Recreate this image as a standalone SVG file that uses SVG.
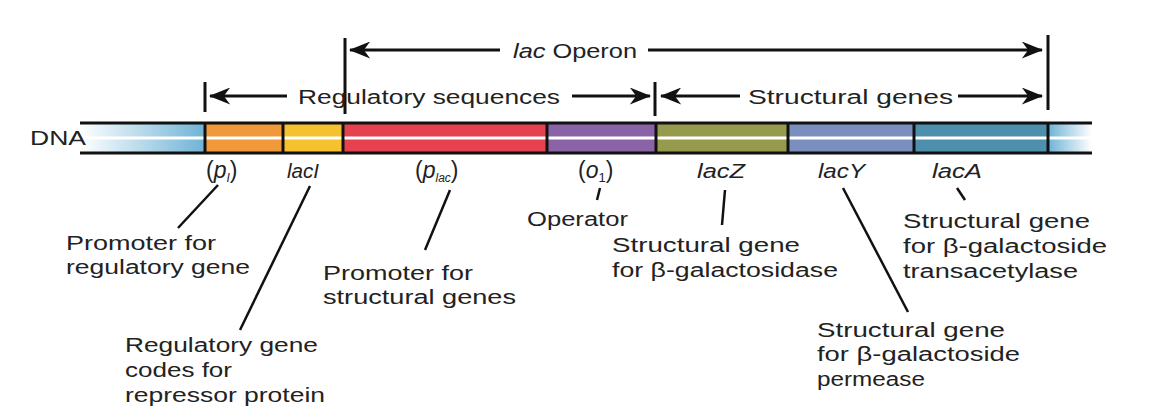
<svg xmlns="http://www.w3.org/2000/svg" width="1174" height="416" viewBox="0 0 1174 416">
<style>
text{font-family:"Liberation Sans",Arial,sans-serif;font-size:20px;fill:#222}
.i{font-style:italic}
.l{stroke:#111;stroke-width:3;fill:none}
.t{stroke:#111;stroke-width:2.5;fill:none}
.s{stroke:#111;stroke-width:3}
</style>
<defs>
<marker id="a" viewBox="0 0 20 16" refX="19" refY="8" markerWidth="22" markerHeight="17" markerUnits="userSpaceOnUse" orient="auto-start-reverse"><path d="M0,0 L20,8 L0,16 L6,8 Z" fill="#111"/></marker>
<linearGradient id="gl" x1="0" x2="1"><stop offset="0" stop-color="#fff"/><stop offset="1" stop-color="#6fb3d6"/></linearGradient>
<linearGradient id="gr" x1="0" x2="1"><stop offset="0" stop-color="#6fb3d6"/><stop offset="1" stop-color="#fff"/></linearGradient>
</defs>
<g id="dna">
<rect x="80" y="124" width="125" height="28" fill="url(#gl)"/>
<rect x="205" y="124" width="78" height="28" fill="#f0993a"/>
<rect x="283" y="124" width="60" height="28" fill="#f3c22e"/>
<rect x="343" y="124" width="204" height="28" fill="#e5414f"/>
<rect x="547" y="124" width="109" height="28" fill="#8a62a6"/>
<rect x="656" y="124" width="132" height="28" fill="#969a4c"/>
<rect x="788" y="124" width="126" height="28" fill="#7a8fbd"/>
<rect x="914" y="124" width="134" height="28" fill="#4f8fae"/>
<rect x="1048" y="124" width="44" height="28" fill="url(#gr)"/>
<line x1="80" y1="138" x2="1092" y2="138" stroke="#fff" stroke-width="3"/>
<line x1="80" y1="123" x2="1092" y2="123" stroke="#111" stroke-width="3"/>
<line x1="80" y1="153" x2="1092" y2="153" stroke="#111" stroke-width="3"/>
<g class="s"><line x1="205" y1="123" x2="205" y2="153"/><line x1="283" y1="123" x2="283" y2="153"/><line x1="343" y1="123" x2="343" y2="153"/><line x1="547" y1="123" x2="547" y2="153"/><line x1="656" y1="123" x2="656" y2="153"/><line x1="788" y1="123" x2="788" y2="153"/><line x1="914" y1="123" x2="914" y2="153"/><line x1="1048" y1="123" x2="1048" y2="153"/></g>
<text x="30" y="145" textLength="56" lengthAdjust="spacingAndGlyphs">DNA</text>
</g>
<g id="connectors">
<line class="l" x1="345" y1="38" x2="345" y2="114"/>
<line class="l" x1="1048" y1="35" x2="1048" y2="110"/>
<line class="l" x1="205" y1="82" x2="205" y2="112"/>
<line class="l" x1="655" y1="82" x2="655" y2="116"/>
<line class="l" x1="500" y1="50" x2="350" y2="50" marker-end="url(#a)"/>
<line class="l" x1="648" y1="50" x2="1042" y2="50" marker-end="url(#a)"/>
<line class="l" x1="287" y1="96" x2="210" y2="96" marker-end="url(#a)"/>
<line class="l" x1="572" y1="96" x2="650" y2="96" marker-end="url(#a)"/>
<line class="l" x1="740" y1="96" x2="661" y2="96" marker-end="url(#a)"/>
<line class="l" x1="958" y1="96" x2="1042" y2="96" marker-end="url(#a)"/>
<line class="t" x1="218" y1="185" x2="178" y2="228"/>
<line class="t" x1="310" y1="186" x2="240" y2="330"/>
<line class="t" x1="450" y1="190" x2="425" y2="250"/>
<line class="t" x1="600" y1="188" x2="597" y2="200"/>
<line class="t" x1="725" y1="190" x2="722" y2="225"/>
<line class="t" x1="843" y1="188" x2="908" y2="312"/>
<line class="t" x1="957" y1="188" x2="965" y2="200"/>
</g>
<g id="labels">
<text x="513" y="58" textLength="124" lengthAdjust="spacingAndGlyphs"><tspan class="i">lac</tspan> Operon</text>
<text x="298" y="104" textLength="262" lengthAdjust="spacingAndGlyphs">Regulatory sequences</text>
<text x="748" y="104" textLength="205" lengthAdjust="spacingAndGlyphs">Structural genes</text>
<text x="206" y="178" style="font-size:23px">(<tspan class="i">p</tspan><tspan class="i" style="font-size:12px" dy="4">I</tspan><tspan dy="-4">)</tspan></text>
<text x="287" y="178" class="i" textLength="32" lengthAdjust="spacingAndGlyphs">lacI</text>
<text x="415" y="178" style="font-size:23px">(<tspan class="i">p</tspan><tspan class="i" style="font-size:12px" dy="4">lac</tspan><tspan dy="-4">)</tspan></text>
<text x="578" y="178" style="font-size:23px">(<tspan class="i">o</tspan><tspan style="font-size:13px" dy="4">1</tspan><tspan dy="-4">)</tspan></text>
<text x="697" y="178" class="i" textLength="48" lengthAdjust="spacingAndGlyphs">lacZ</text>
<text x="818" y="178" class="i" textLength="47" lengthAdjust="spacingAndGlyphs">lacY</text>
<text x="932" y="178" class="i" textLength="50" lengthAdjust="spacingAndGlyphs">lacA</text>
<text x="66" y="250" textLength="150" lengthAdjust="spacingAndGlyphs">Promoter for</text>
<text x="66" y="274" textLength="184" lengthAdjust="spacingAndGlyphs">regulatory gene</text>
<text x="125" y="352" textLength="193" lengthAdjust="spacingAndGlyphs">Regulatory gene</text>
<text x="125" y="377" textLength="107" lengthAdjust="spacingAndGlyphs">codes for</text>
<text x="125" y="402" textLength="200" lengthAdjust="spacingAndGlyphs">repressor protein</text>
<text x="323" y="280" textLength="150" lengthAdjust="spacingAndGlyphs">Promoter for</text>
<text x="323" y="304" textLength="193" lengthAdjust="spacingAndGlyphs">structural genes</text>
<text x="527" y="226" textLength="101" lengthAdjust="spacingAndGlyphs">Operator</text>
<text x="612" y="252" textLength="188" lengthAdjust="spacingAndGlyphs">Structural gene</text>
<text x="612" y="277" textLength="226" lengthAdjust="spacingAndGlyphs">for β-galactosidase</text>
<text x="903" y="228" textLength="187" lengthAdjust="spacingAndGlyphs">Structural gene</text>
<text x="903" y="253" textLength="204" lengthAdjust="spacingAndGlyphs">for β-galactoside</text>
<text x="903" y="278" textLength="175" lengthAdjust="spacingAndGlyphs">transacetylase</text>
<text x="817" y="337" textLength="188" lengthAdjust="spacingAndGlyphs">Structural gene</text>
<text x="817" y="361" textLength="203" lengthAdjust="spacingAndGlyphs">for β-galactoside</text>
<text x="817" y="386" textLength="108" lengthAdjust="spacingAndGlyphs">permease</text>
</g>
</svg>
